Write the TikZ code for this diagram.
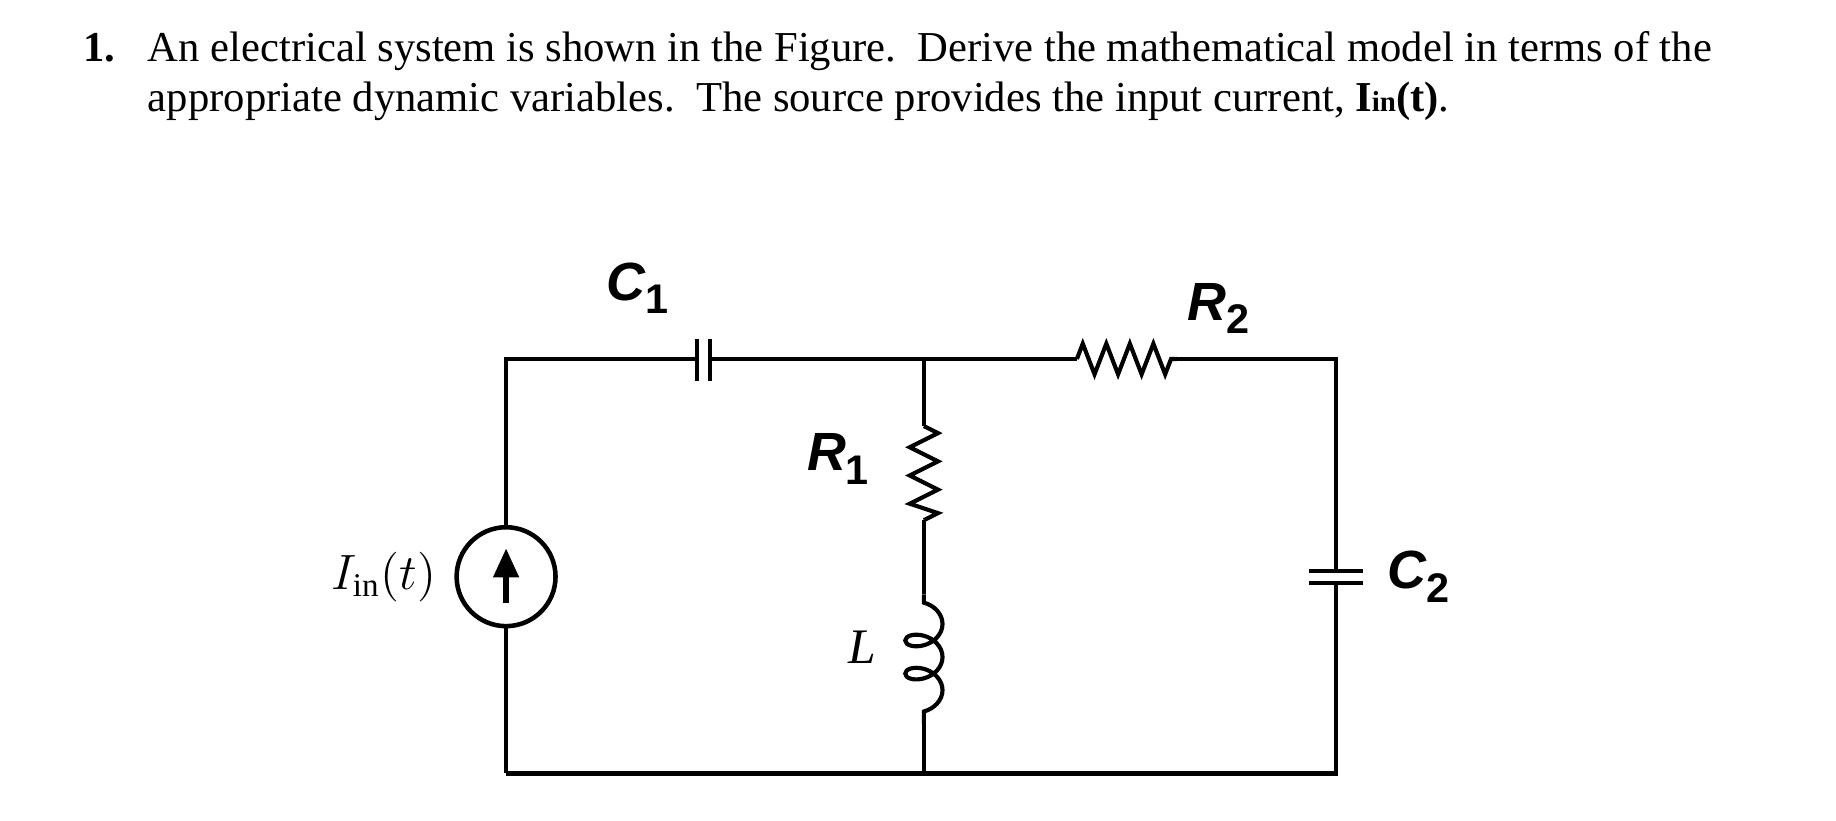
\documentclass[tikz,border=0pt]{standalone}
\usepackage{fontspec}
\setmainfont{Liberation Serif}
\newfontfamily\lblfont{Liberation Sans}
\usetikzlibrary{decorations.pathmorphing,arrows.meta}
\newcommand{\sub}[1]{\raisebox{-0.25em}{\upshape\fontsize{10pt}{10pt}\selectfont #1}}
\begin{document}
\begin{tikzpicture}[x=0.01cm,y=-0.01cm,
  wire/.style={line width=1.1pt},
  lbl/.style={font=\lblfont\bfseries\itshape\fontsize{13pt}{13pt}\selectfont,inner sep=0pt}]
\useasboundingbox (0,0) rectangle (1560,697);
% title
\node[anchor=base west,inner sep=0pt,font=\fontsize{10.3pt}{10.3pt}\selectfont] (num) at (70,52) {\textbf{1.}};
\node[anchor=base west,inner sep=0pt,font=\fontsize{10.3pt}{10.3pt}\selectfont] (l1) at (125,52) {An electrical system is shown in the Figure.\ \ Derive the mathematical model in terms of the};
\node[anchor=base west,inner sep=0pt,font=\fontsize{10.3pt}{10.3pt}\selectfont] (l2) at (125,95) {appropriate dynamic variables.\ \ The source provides the input current, \textbf{I{\fontsize{7pt}{7pt}\selectfont in}(t)}.};
% coordinates
\coordinate (tl) at (430,305); \coordinate (bl) at (430,657);
\coordinate (tm) at (785,305); \coordinate (bm) at (785,657);
\coordinate (tr) at (1135,305); \coordinate (br) at (1135,657);
\coordinate (c1a) at (592,305); \coordinate (c1b) at (603,305);
\coordinate (r2a) at (915,305); \coordinate (r2b) at (1000,305);
\coordinate (r1a) at (785,362); \coordinate (r1b) at (785,442);
\coordinate (la) at (785,505); \coordinate (lb) at (785,615);
\coordinate (c2a) at (1135,485); \coordinate (c2b) at (1135,495);
\node[circle,draw,line width=1.1pt,inner sep=0pt,minimum size=0.84cm] (src) at (430,490) {};
% wires
\draw[wire] (bl) -- (src.south);
\draw[wire] (src.north) -- (tl) -- (c1a);
\draw[wire] (c1b) -- (r2a);
\draw[wire] (r2b) -- (tr) -- (c2a);
\draw[wire] (c2b) -- (br) -- (bl);
\draw[wire] (tm) -- (r1a);
\draw[wire] (r1b) -- (la);
\draw[wire] (lb) -- (bm);
% C1
\draw[line width=1pt] (592,288) -- (592,324) (603,288) -- (603,324);
% C2
\draw[line width=1pt] (1112,485) -- (1158,485) (1112,495) -- (1158,495);
% R2 zigzag
\draw[line width=1pt] (r2a) -- (920,292) -- (930,318) -- (940,292) -- (950,318) -- (960,292) -- (970,318) -- (980,292) -- (990,318) -- (995,305) -- (r2b);
% R1 zigzag
\draw[line width=1pt] (r1a) -- (797,368) -- (773,380) -- (797,392) -- (773,404) -- (797,416) -- (773,428) -- (797,436) -- (r1b);
% inductor
\draw[line width=1pt,decorate,decoration={coil,aspect=0.7,segment length=8pt,amplitude=4.5pt,pre length=2pt,post length=2pt}] (la) -- (lb);
% arrow in source
\draw[line width=1.3pt,-{Triangle[length=7pt,width=6pt]}] (430,512) -- (430,466);
% labels
\node[lbl] (lc1) at (542,245) {C\sub{1}};
\node[lbl] (lr2) at (1035,262) {R\sub{2}};
\node[lbl] (lr1) at (712,390) {R\sub{1}};
\node[lbl] (lc2) at (1205,490) {C\sub{2}};
\node[inner sep=0pt,font=\fontsize{12pt}{12pt}\selectfont\itshape] (ll) at (733,550) {L};
\node[inner sep=0pt,font=\fontsize{12pt}{12pt}\selectfont] (lin) at (326,490) {$I_{\mathrm{in}}(t)$};
\end{tikzpicture}
\end{document}
